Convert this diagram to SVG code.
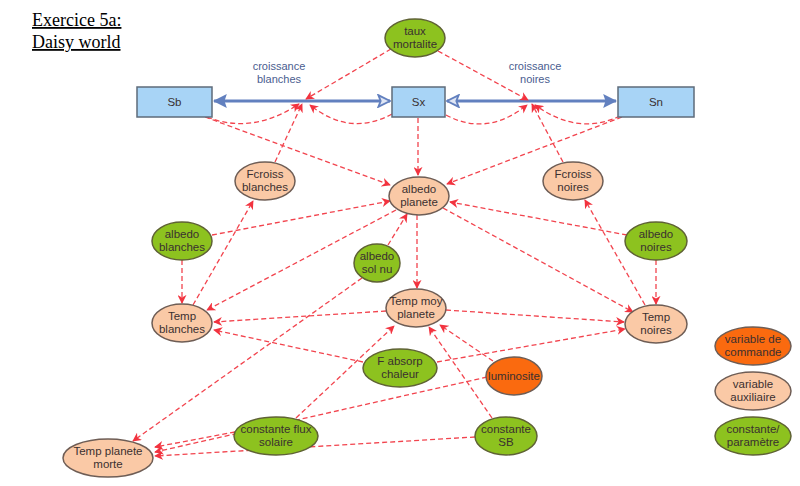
<svg xmlns="http://www.w3.org/2000/svg" width="800" height="486" viewBox="0 0 800 486">
<style>
  .t { font-family: "Comic Sans MS", "Liberation Sans", sans-serif; font-size: 11.5px; fill: #3a3030; text-anchor: middle; }
  .lbl { font-family: "Comic Sans MS", "Liberation Sans", sans-serif; font-size: 11px; fill: #4a5d8f; text-anchor: middle; }
  .title { font-family: "Liberation Serif", "Times New Roman", serif; font-size: 18px; fill: #000; text-decoration: underline; }
  .aux { fill: #FAC9A6; stroke: #6e5d55; stroke-width: 1.5; }
  .cst { fill: #8DC21F; stroke: #5f6235; stroke-width: 1.5; }
  .cmd { fill: #FA6A0F; stroke: #6e5d55; stroke-width: 1.5; }
  .box { fill: #A8D4F6; stroke: #5e6b7a; stroke-width: 1.5; }
  .c { fill: none; stroke: #F2444E; stroke-width: 1.3; stroke-dasharray: 5 3; marker-end: url(#ah); }
  .flow { fill: none; stroke: #6280BF; stroke-width: 3; }
</style>
<defs>
  <marker id="ah" viewBox="0 0 10 10" refX="9" refY="5" markerWidth="9" markerHeight="9" markerUnits="userSpaceOnUse" orient="auto">
    <path d="M0,0 L10,5 L0,10 L3,5 z" fill="#F2333F"/>
  </marker>
  <marker id="bf" viewBox="0 0 12 12" refX="11" refY="6" markerWidth="14" markerHeight="14" markerUnits="userSpaceOnUse" orient="auto">
    <path d="M0,0 L12,6 L0,12 L2,6 z" fill="#6280BF"/>
  </marker>
  <marker id="bo" viewBox="0 0 12 12" refX="11" refY="6" markerWidth="14" markerHeight="14" markerUnits="userSpaceOnUse" orient="auto">
    <path d="M1,1 L11,6 L1,11 L3,6 z" fill="#dfe6f5" stroke="#6280BF" stroke-width="1.6"/>
  </marker>
</defs>
<rect width="800" height="486" fill="#ffffff"/>

<g id="title">
  <text class="title" x="32" y="26">Exercice 5a:</text>
  <text class="title" x="32" y="48">Daisy world</text>
</g>

<g id="flows">
  <line class="flow" x1="303" y1="101" x2="214" y2="101" marker-end="url(#bf)"/>
  <line class="flow" x1="303" y1="101" x2="390" y2="101" marker-end="url(#bo)"/>
  <line class="flow" x1="530" y1="101" x2="447" y2="101" marker-end="url(#bo)"/>
  <line class="flow" x1="530" y1="101" x2="616" y2="101" marker-end="url(#bf)"/>
  <text class="lbl" x="279" y="70">croissance</text>
  <text class="lbl" x="279" y="83">blanches</text>
  <text class="lbl" x="535" y="70">croissance</text>
  <text class="lbl" x="535" y="83">noires</text>
</g>

<g id="connectors">
  <line class="c" x1="391" y1="49" x2="306" y2="99"/>
  <line class="c" x1="438" y1="51" x2="528" y2="100"/>
  <path class="c" d="M207,117 Q252,135 299,104"/>
  <path class="c" d="M392,114 Q350,137 310,105"/>
  <path class="c" d="M446,115 Q487,137 527,105"/>
  <path class="c" d="M620,116 Q578,136 535,105"/>
  <line class="c" x1="205" y1="117" x2="390" y2="185"/>
  <line class="c" x1="622" y1="117" x2="447" y2="184"/>
  <line class="c" x1="418" y1="118" x2="418" y2="175"/>
  <line class="c" x1="275" y1="162" x2="302" y2="104"/>
  <line class="c" x1="563" y1="162" x2="532" y2="104"/>
  <line class="c" x1="212" y1="235" x2="390" y2="201"/>
  <line class="c" x1="627" y1="235" x2="450" y2="202"/>
  <line class="c" x1="388" y1="245" x2="407" y2="214"/>
  <line class="c" x1="396" y1="210" x2="207" y2="310"/>
  <line class="c" x1="443" y1="208" x2="633" y2="312"/>
  <line class="c" x1="417" y1="215" x2="417" y2="288"/>
  <line class="c" x1="182" y1="260" x2="182" y2="303"/>
  <line class="c" x1="656" y1="260" x2="656" y2="304"/>
  <line class="c" x1="193" y1="305" x2="253" y2="201"/>
  <line class="c" x1="645" y1="305" x2="585" y2="200"/>
  <line class="c" x1="386" y1="311" x2="214" y2="322"/>
  <line class="c" x1="446" y1="310" x2="624" y2="322"/>
  <line class="c" x1="363" y1="362" x2="214" y2="330"/>
  <line class="c" x1="437" y1="362" x2="625" y2="329"/>
  <line class="c" x1="362" y1="278" x2="133" y2="441"/>
  <line class="c" x1="296" y1="418" x2="394" y2="326"/>
  <line class="c" x1="235" y1="432" x2="155" y2="447"/>
  <line class="c" x1="487" y1="377" x2="155" y2="452"/>
  <line class="c" x1="475" y1="437" x2="155" y2="456"/>
  <line class="c" x1="493" y1="361" x2="440" y2="325"/>
  <line class="c" x1="492" y1="418" x2="429" y2="327"/>
</g>

<g id="Sb"><rect class="box" x="137" y="87" width="75" height="30"/><text class="t" x="174.5" y="106">Sb</text></g>
<g id="Sx"><rect class="box" x="392" y="87" width="53" height="30"/><text class="t" x="418.5" y="106">Sx</text></g>
<g id="Sn"><rect class="box" x="618" y="87" width="76" height="30"/><text class="t" x="656" y="106">Sn</text></g>

<g id="taux-mortalite"><ellipse class="cst" cx="415" cy="38" rx="30" ry="19"/><text class="t" x="415" y="35">taux</text><text class="t" x="415" y="48">mortalite</text></g>
<g id="fcroiss-blanches"><ellipse class="aux" cx="265" cy="181" rx="30" ry="19"/><text class="t" x="265" y="178">Fcroiss</text><text class="t" x="265" y="191">blanches</text></g>
<g id="fcroiss-noires"><ellipse class="aux" cx="573" cy="181" rx="30" ry="19"/><text class="t" x="573" y="178">Fcroiss</text><text class="t" x="573" y="191">noires</text></g>
<g id="albedo-planete"><ellipse class="aux" cx="419" cy="196" rx="30" ry="19"/><text class="t" x="419" y="193">albedo</text><text class="t" x="419" y="206">planete</text></g>
<g id="albedo-blanches"><ellipse class="cst" cx="182" cy="241" rx="30" ry="19"/><text class="t" x="182" y="238">albedo</text><text class="t" x="182" y="251">blanches</text></g>
<g id="albedo-noires"><ellipse class="cst" cx="656" cy="241" rx="31" ry="19"/><text class="t" x="656" y="238">albedo</text><text class="t" x="656" y="251">noires</text></g>
<g id="albedo-sol-nu"><ellipse class="cst" cx="377" cy="263" rx="23" ry="19"/><text class="t" x="377" y="260">albedo</text><text class="t" x="377" y="273">sol nu</text></g>
<g id="temp-blanches"><ellipse class="aux" cx="182" cy="323" rx="30" ry="19"/><text class="t" x="182" y="320">Temp</text><text class="t" x="182" y="333">blanches</text></g>
<g id="temp-moy-planete"><ellipse class="aux" cx="416" cy="308" rx="30" ry="19"/><text class="t" x="416" y="305">Temp moy</text><text class="t" x="416" y="318">planete</text></g>
<g id="temp-noires"><ellipse class="aux" cx="656" cy="324" rx="31" ry="19"/><text class="t" x="656" y="321">Temp</text><text class="t" x="656" y="334">noires</text></g>
<g id="f-absorp-chaleur"><ellipse class="cst" cx="400" cy="368" rx="37" ry="19"/><text class="t" x="400" y="365">F absorp</text><text class="t" x="400" y="378">chaleur</text></g>
<g id="luminosite"><ellipse class="cmd" cx="514" cy="376" rx="28" ry="19"/><text class="t" x="514" y="380">luminosite</text></g>
<g id="constante-flux-solaire"><ellipse class="cst" cx="276" cy="436" rx="42" ry="19"/><text class="t" x="276" y="433">constante flux</text><text class="t" x="276" y="446">solaire</text></g>
<g id="constante-sb"><ellipse class="cst" cx="506" cy="436" rx="31" ry="19"/><text class="t" x="506" y="433">constante</text><text class="t" x="506" y="446">SB</text></g>
<g id="temp-planete-morte"><ellipse class="aux" cx="108" cy="458" rx="45" ry="19"/><text class="t" x="108" y="455">Temp planete</text><text class="t" x="108" y="468">morte</text></g>

<g id="legend-commande"><ellipse class="cmd" cx="753" cy="346" rx="38" ry="19"/><text class="t" x="753" y="343">variable de</text><text class="t" x="753" y="356">commande</text></g>
<g id="legend-auxiliaire"><ellipse class="aux" cx="753" cy="391" rx="38" ry="19"/><text class="t" x="753" y="388">variable</text><text class="t" x="753" y="401">auxiliaire</text></g>
<g id="legend-constante"><ellipse class="cst" cx="753" cy="436" rx="38" ry="19"/><text class="t" x="753" y="433">constante/</text><text class="t" x="753" y="446">paramètre</text></g>
</svg>
